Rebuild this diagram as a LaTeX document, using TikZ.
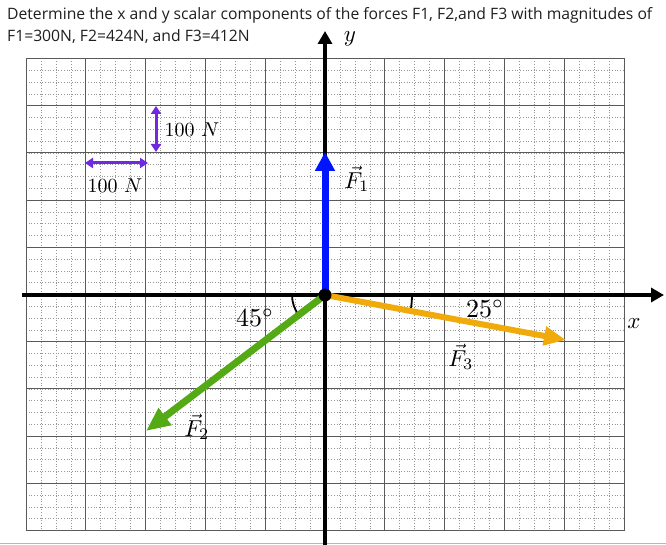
\documentclass[tikz,border=0pt]{standalone}
\usepackage{fontspec}
\newfontfamily\titlefont{Open Sans}
\usetikzlibrary{arrows.meta}
\definecolor{fblue}{RGB}{0,20,255}
\definecolor{fgreen}{RGB}{84,170,20}
\definecolor{forange}{RGB}{240,170,10}
\definecolor{fpurple}{RGB}{112,40,224}
\definecolor{gmajor}{RGB}{90,90,90}
\definecolor{gminor}{RGB}{150,150,150}
\tikzset{
  majorline/.style={draw=gmajor,line width=1pt},
  minorline/.style={draw=gminor,line width=0.7pt,dotted},
  axisline/.style={draw=black,line width=3.6pt,-{Triangle[length=13pt,width=14pt]}},
  force/.style={line width=7pt},
  anglearc/.style={draw=black,line width=1.8pt},
  lbl/.style={scale=2.3,inner sep=0pt},
  anglelbl/.style={scale=2.6,inner sep=0pt},
  smalllbl/.style={scale=2.0,inner sep=0pt},
  titletext/.style={font=\titlefont\fontsize{15.7}{18}\selectfont,text=black!88,inner sep=0pt,anchor=base west},
  scalearrow/.style={draw=fpurple,line width=3pt,{Triangle[length=8pt,width=10pt]}-{Triangle[length=8pt,width=10pt]}}
}
\begin{document}
\begin{tikzpicture}[x=1pt,y=-1pt]
\useasboundingbox[fill=white] (0,0) rectangle (666,545);
% minor grid
\foreach \i in {0,...,40} \draw[minorline] ({26+\i*14.95},58.5) -- ({26+\i*14.95},530.5);
\foreach \j in {0,...,40} \draw[minorline] (26,{58.5+\j*11.8}) -- (624,{58.5+\j*11.8});
% major grid
\foreach \i in {0,...,10} \draw[majorline] ({26+\i*59.8},58.5) -- ({26+\i*59.8},530.5);
\foreach \j in {0,...,10} \draw[majorline] (26,{58.5+\j*47.2}) -- (624,{58.5+\j*47.2});
% bottom border line
\draw[gminor!70,line width=1.5pt] (0,543.5) -- (666,543.5);
% axes
\coordinate (xs) at (22,295);
\coordinate (xe) at (664,295);
\coordinate (ys) at (325,545);
\coordinate (ye) at (325,31);
\draw[axisline] (xs) -- (xe);
\draw[axisline] (ys) -- (ye);
\node[lbl] (ylab) at (350,39) {$y$};
\node[lbl] (xlab) at (634,324) {$x$};
% origin
\coordinate (O) at (325,295);
\coordinate (t1) at (325,152);
\coordinate (t2) at (146,431);
\coordinate (t3) at (566,340);
% angle arcs
\draw[anglearc] (292,295) arc[start angle=180,end angle=142.8,radius=33];
\draw[anglearc] (412,295) arc[start angle=0,end angle=10.6,radius=87];
% forces
\draw[force,draw=fgreen,-{Triangle[length=24pt,width=20pt]}] (O) -- (t2);
\draw[force,line width=6pt,draw=forange,-{Triangle[length=22pt,width=18pt]}] (O) -- (t3);
\draw[force,draw=fblue,-{Triangle[length=19pt,width=19pt]}] (O) -- (t1);
\node[circle,fill=black,minimum size=13pt,inner sep=0pt] (Odot) at (O) {};
% labels
\node[lbl] (f1) at (357,179) {$\vec{F}_1$};
\node[lbl] (f2) at (197,427) {$\vec{F}_2$};
\node[lbl] (f3) at (461,357) {$\vec{F}_3$};
\node[anglelbl] (a45) at (255,318) {$45^\circ$};
\node[anglelbl] (a25) at (485,309) {$25^\circ$};
% scale arrows
\coordinate (va) at (156,106);
\coordinate (vb) at (156,152);
\coordinate (ha) at (85,163);
\coordinate (hb) at (148,163);
\draw[scalearrow] (va) -- (vb);
\draw[scalearrow] (ha) -- (hb);
\node[smalllbl] (s1) at (192,130) {$100\ N$};
\node[smalllbl] (s2) at (115,186) {$100\ N$};
% title
\node[titletext] (title1) at (7,20) {Determine the x and y scalar components of the forces F1, F2,and F3 with magnitudes of};
\node[titletext] (title2) at (7,42) {F1=300N, F2=424N, and F3=412N};
\end{tikzpicture}
\end{document}
